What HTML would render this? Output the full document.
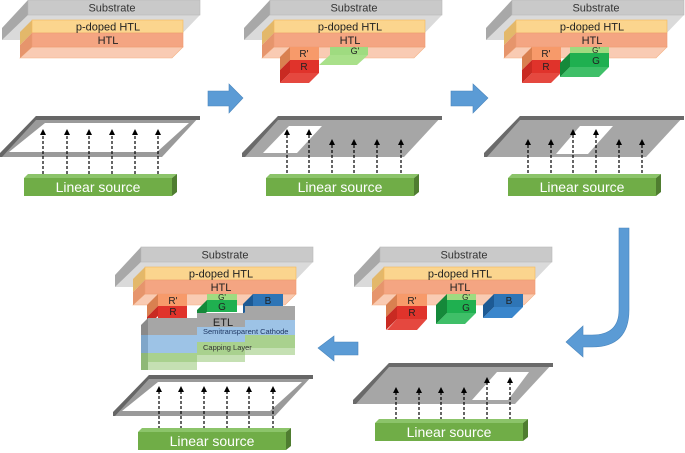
<!DOCTYPE html>
<html><head><meta charset="utf-8"><style>
html,body{margin:0;padding:0;background:#fff;width:685px;height:453px;overflow:hidden}
svg{display:block}
text{font-family:"Liberation Sans",sans-serif}
</style></head><body>
<svg width="685" height="453" viewBox="0 0 685 453" xmlns="http://www.w3.org/2000/svg">
<defs>
<g id="stack">
  <polygon points="28,15 200,15 176,40 2,40" fill="#dadada"/>
  <polygon points="28,0 28,15 2,40 2,28" fill="#a8a8a8"/>
  <rect x="28" y="0" width="172" height="15" fill="#c9c9c9" stroke="#b8b8b8" stroke-width="0.6"/>
  <text x="112" y="11.5" font-size="11" fill="#333" text-anchor="middle">Substrate</text>
  <polygon points="32,47 183,47 172,58 20,58" fill="#f9cbb3" stroke="#f4b183" stroke-width="0.6"/>
  <polygon points="32,20 20,32 20,45 32,33" fill="#e3b86a"/>
  <polygon points="32,33 20,45 20,58 32,47" fill="#e6956c"/>
  <rect x="32" y="20" width="151" height="13" fill="#fbd58e" stroke="#f5b85a" stroke-width="0.6"/>
  <rect x="32" y="33" width="151" height="14" fill="#f4a582" stroke="#ef9a72" stroke-width="0.6"/>
  <text x="108" y="30.5" font-size="11" fill="#222" text-anchor="middle">p-doped HTL</text>
  <text x="108" y="44" font-size="11" fill="#222" text-anchor="middle">HTL</text>
</g>
<g id="src">
  <polygon points="24,178 28,174 177,174 172,178" fill="#8cc46a"/>
  <polygon points="172,178 177,174 177,192 172,196" fill="#4f7d30"/>
  <rect x="24" y="178" width="148" height="18" fill="#70ad47"/>
  <text x="98" y="192" font-size="14" fill="#fff" text-anchor="middle">Linear source</text>
</g>
<g id="frame">
  <polygon points="36,116 200,116 162,157 0,157" fill="#9a9a9a"/>
  <polygon points="36,116 200,116 200,120 36,120" fill="#666"/>
  <polygon points="36,116 36,120 2,157 0,157 0,153" fill="#666"/>
  <polygon points="45,123 189,123 157,152 9,152" fill="#fff"/>
</g>
<g id="plate">
  <polygon points="36,116 200,116 162,157 0,157" fill="#a6a6a6"/>
  <polygon points="36,116 200,116 200,120 36,120" fill="#6a6a6a"/>
  <polygon points="36,116 36,120 3,157 0,157 0,153" fill="#6a6a6a"/>
</g>
<marker id="ah" markerWidth="6" markerHeight="6" refX="3" refY="3" orient="auto" markerUnits="userSpaceOnUse">
  <path d="M0,0 L6,3 L0,6 Z" fill="#000"/>
</marker>
</defs>

<!-- stacks -->
<use href="#stack"/>
<use href="#stack" transform="translate(242,0)"/>
<use href="#stack" transform="translate(484,0)"/>
<use href="#stack" transform="translate(113,247)"/>
<use href="#stack" transform="translate(352,247)"/>

<!-- panel 2 pixels -->
<polygon points="290,73 319,73 309,83 280,83" fill="#e5483f"/>
<polygon points="290,47 280,57 280,70 290,60" fill="#d98050"/>
<polygon points="290,60 280,70 280,83 290,73" fill="#c92a22"/>
<rect x="290" y="47" width="29" height="13" fill="#f79a6a"/>
<rect x="290" y="60" width="29" height="13" fill="#e0332b"/>
<text x="304" y="57" font-size="10" fill="#222" text-anchor="middle">R'</text>
<text x="304" y="70" font-size="10" fill="#222" text-anchor="middle">R</text>
<polygon points="330,55 368,55 357,65 319,65" fill="#a9e08a"/>
<rect x="330" y="47" width="38" height="8" fill="#9fdb80"/>
<text x="355" y="54" font-size="9" fill="#222" text-anchor="middle">G'</text>

<!-- panel 3 pixels -->
<polygon points="532,73 561,73 551,83 522,83" fill="#e5483f"/>
<polygon points="532,47 522,57 522,70 532,60" fill="#d98050"/>
<polygon points="532,60 522,70 522,83 532,73" fill="#c92a22"/>
<rect x="532" y="47" width="29" height="13" fill="#f79a6a"/>
<rect x="532" y="60" width="29" height="13" fill="#e0332b"/>
<text x="546" y="57" font-size="10" fill="#222" text-anchor="middle">R'</text>
<text x="546" y="70" font-size="10" fill="#222" text-anchor="middle">R</text>
<polygon points="570,67 609,67 599,77 560,77" fill="#3fbf68"/>
<polygon points="570,53 560,63 560,77 570,67" fill="#15893a"/>
<rect x="570" y="47" width="39" height="6" fill="#9fdb80"/>
<rect x="570" y="53" width="39" height="14" fill="#1fb050"/>
<text x="596" y="53" font-size="8" fill="#222" text-anchor="middle">G'</text>
<text x="596" y="64" font-size="10" fill="#222" text-anchor="middle">G</text>

<!-- panel 5 pixels -->
<polygon points="397,319 427,319 417,330 387,330" fill="#e5483f"/>
<polygon points="397,294 386,305 386,317 397,306" fill="#d98050"/>
<polygon points="397,306 386,317 386,330 397,319" fill="#c92a22"/>
<rect x="397" y="294" width="30" height="12" fill="#f79a6a"/>
<rect x="397" y="306" width="30" height="13" fill="#e0332b"/>
<text x="412" y="304" font-size="10" fill="#222" text-anchor="middle">R'</text>
<text x="412" y="316" font-size="10" fill="#222" text-anchor="middle">R</text>
<polygon points="447,313 476,313 465,324 436,324" fill="#3fbf68"/>
<polygon points="447,294 436,305 436,324 447,313" fill="#15893a"/>
<rect x="447" y="294" width="29" height="6" fill="#9fdb80"/>
<rect x="447" y="300" width="29" height="13" fill="#1fb050"/>
<text x="466" y="300" font-size="8" fill="#222" text-anchor="middle">G'</text>
<text x="466" y="311" font-size="10" fill="#222" text-anchor="middle">G</text>
<polygon points="494,307 523,307 512,318 483,318" fill="#3a86cc"/>
<polygon points="494,294 483,305 483,318 494,307" fill="#1d5a94"/>
<rect x="494" y="294" width="29" height="13" fill="#2e75b6"/>
<text x="509" y="304" font-size="10" fill="#222" text-anchor="middle">B</text>

<!-- panel 4 pixels -->
<polygon points="158,294 147,305 147,317 158,306" fill="#d98050"/>
<polygon points="158,306 147,317 147,327 158,316" fill="#c92a22"/>
<rect x="158" y="294" width="29" height="12" fill="#f79a6a"/>
<rect x="158" y="306" width="29" height="12" fill="#e0332b"/>
<text x="173" y="304" font-size="10" fill="#222" text-anchor="middle">R'</text>
<text x="173" y="315" font-size="10" fill="#222" text-anchor="middle">R</text>
<polygon points="207,300 197,310 197,320 207,312" fill="#15893a"/>
<rect x="207" y="294" width="30" height="6" fill="#9fdb80"/>
<rect x="207" y="300" width="30" height="12" fill="#1fb050"/>
<text x="222" y="300" font-size="8" fill="#222" text-anchor="middle">G'</text>
<text x="222" y="310" font-size="10" fill="#222" text-anchor="middle">G</text>
<polygon points="253,294 243,304 243,314 253,306" fill="#1d5a94"/>
<rect x="253" y="294" width="30" height="12" fill="#2e75b6"/>
<text x="268" y="304" font-size="10" fill="#222" text-anchor="middle">B</text>

<!-- ETL etc columns -->
<polygon points="148,318 141,325 141,370 148,370" fill="#8a8a8a"/>
<polygon points="141,335 148,335 148,353 141,353" fill="#7fa6c9"/>
<polygon points="141,353 148,353 148,370 141,370" fill="#8fb877"/>
<rect x="148" y="318" width="49" height="17" fill="#a6a6a6"/>
<rect x="148" y="335" width="49" height="18" fill="#9dc3e6"/>
<rect x="148" y="353" width="49" height="17" fill="#a9d18e"/>
<rect x="148" y="362" width="49" height="8" fill="#c5e0b3"/>
<rect x="197" y="313" width="48" height="14" fill="#a6a6a6"/>
<rect x="197" y="327" width="48" height="15" fill="#9dc3e6"/>
<rect x="197" y="342" width="48" height="20" fill="#a9d18e"/>
<rect x="197" y="355" width="48" height="7" fill="#c5e0b3"/>
<rect x="245" y="306" width="50" height="14" fill="#a6a6a6"/>
<rect x="245" y="320" width="50" height="15" fill="#9dc3e6"/>
<rect x="245" y="335" width="50" height="20" fill="#a9d18e"/>
<rect x="245" y="348" width="50" height="7" fill="#c5e0b3"/>
<text x="223" y="326" font-size="11" fill="#222" text-anchor="middle">ETL</text>
<text x="203" y="334" font-size="7.5" fill="#1f3864">Semitransparent  Cathode</text>
<text x="203" y="350" font-size="7.5" fill="#333">Capping Layer</text>

<!-- frames / plates -->
<use href="#frame"/>
<use href="#plate" transform="translate(242,0)"/>
<polygon points="289,126 322,126 297,153 263,153" fill="#fff"/>
<use href="#plate" transform="translate(484,0)"/>
<polygon points="580,126 613,126 588,154 556,154" fill="#fff"/>
<use href="#frame" transform="translate(113,259)"/>
<use href="#plate" transform="translate(353,247)"/>
<polygon points="497,372 529,372 508,400 472,400" fill="#fff"/>

<!-- arrows -->
<g stroke="#000" stroke-width="1.2" stroke-dasharray="3,2" marker-end="url(#ah)" fill="none">
  <line x1="43" y1="174" x2="43" y2="132"/><line x1="67" y1="174" x2="67" y2="132"/>
  <line x1="89" y1="174" x2="89" y2="132"/><line x1="112" y1="174" x2="112" y2="132"/>
  <line x1="135" y1="174" x2="135" y2="132"/><line x1="158" y1="174" x2="158" y2="132"/>

  <line x1="287" y1="173" x2="287" y2="132"/><line x1="309" y1="173" x2="309" y2="132"/>
  <line x1="332" y1="173" x2="332" y2="142"/><line x1="354" y1="173" x2="354" y2="142"/>
  <line x1="377" y1="173" x2="377" y2="142"/><line x1="401" y1="173" x2="401" y2="142"/>

  <line x1="528" y1="173" x2="528" y2="142"/><line x1="551" y1="173" x2="551" y2="142"/>
  <line x1="573" y1="173" x2="573" y2="132"/><line x1="596" y1="173" x2="596" y2="132"/>
  <line x1="619" y1="173" x2="619" y2="142"/><line x1="642" y1="173" x2="642" y2="142"/>

  <line x1="159" y1="429" x2="159" y2="389"/><line x1="181" y1="429" x2="181" y2="389"/>
  <line x1="204" y1="429" x2="204" y2="389"/><line x1="227" y1="429" x2="227" y2="389"/>
  <line x1="249" y1="429" x2="249" y2="389"/><line x1="273" y1="429" x2="273" y2="389"/>

  <line x1="396" y1="420" x2="396" y2="390"/><line x1="419" y1="420" x2="419" y2="390"/>
  <line x1="441" y1="420" x2="441" y2="390"/><line x1="464" y1="420" x2="464" y2="390"/>
  <line x1="487" y1="420" x2="487" y2="380"/><line x1="510" y1="420" x2="510" y2="380"/>
</g>

<!-- sources -->
<use href="#src"/>
<use href="#src" transform="translate(242,0)"/>
<use href="#src" transform="translate(484,0)"/>
<use href="#src" transform="translate(114,254)"/>
<use href="#src" transform="translate(351,245)"/>

<!-- block arrows -->
<g fill="#5b9bd5" stroke="#4a86bd" stroke-width="0.6">
  <polygon points="208,91 229,91 229,84 243,98 229,113 229,106 208,106"/>
  <polygon points="451,91 473,91 473,84 488,98 473,113 473,106 451,106"/>
  <polygon points="358,342 334,342 334,336 318,348 334,361 334,355 358,355"/>
  <path d="M619,228 L629,228 L629,310 Q629,347 592,347 L583,347 L583,357 L566,342 L583,326 L583,335 L592,335 Q619,335 619,310 Z"/>
</g>
</svg>
</body></html>
